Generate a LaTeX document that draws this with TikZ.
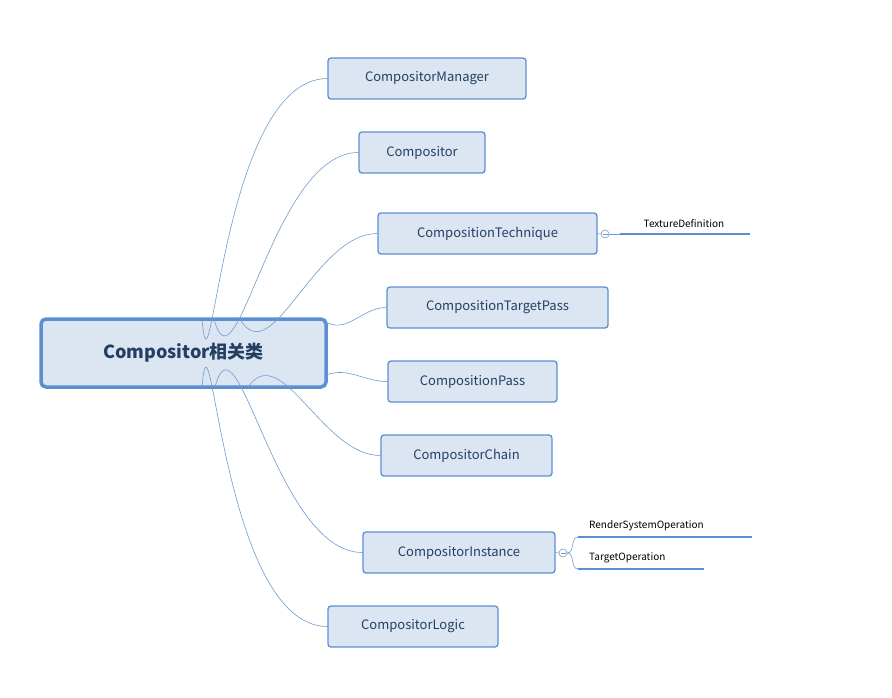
\documentclass[tikz,border=0pt]{standalone}
\usepackage{fontspec}
\setmainfont{Noto Sans CJK SC}
\begin{document}
\begin{tikzpicture}[x=1pt,y=-1pt,
  every node/.style={inner sep=0pt},
  box/.style={draw=boxline,fill=boxfill,line width=1.3pt,rounded corners=3pt,text=txt,font=\fontsize{13}{15}\selectfont},
  conn/.style={draw=conncol,line width=0.6pt},
  leaf/.style={font=\fontsize{10}{12}\selectfont,text=black},
  leafline/.style={draw=boxline,line width=1.8pt}]
\definecolor{boxline}{HTML}{5B8FD2}
\definecolor{boxfill}{HTML}{DCE6F2}
\definecolor{txt}{HTML}{243F63}
\definecolor{conncol}{HTML}{6F9AD0}
\useasboundingbox (0,0) rectangle (892,697);
\node[box,line width=3.5pt,rounded corners=5pt,minimum width=285,minimum height=68,font=\fontsize{18}{22}\selectfont\bfseries,text=txt] (c) at (183.5,353) {Compositor相关类};
\node[box,minimum width=198,minimum height=41] (n1) at (427,78.5) {CompositorManager};
\node[box,minimum width=126,minimum height=41] (n2) at (422,152.5) {Compositor};
\node[box,minimum width=219,minimum height=41] (n3) at (487.5,233.5) {CompositionTechnique};
\node[box,minimum width=221,minimum height=41] (n4) at (497.5,307.5) {CompositionTargetPass};
\node[box,minimum width=169,minimum height=41] (n5) at (472.5,381.5) {CompositionPass};
\node[box,minimum width=171,minimum height=41] (n6) at (466.5,455.5) {CompositorChain};
\node[box,minimum width=192,minimum height=41] (n7) at (459,552.5) {CompositorInstance};
\node[box,minimum width=170,minimum height=41] (n8) at (413,626.5) {CompositorLogic};
\coordinate (s1) at (202,319); \coordinate (s2) at (214,319); \coordinate (s3) at (240,319);
\coordinate (s4) at (326,322); \coordinate (s5) at (326,375); \coordinate (s6) at (248,387);
\coordinate (s7) at (215,387); \coordinate (s8) at (202,387);
\draw[conn] (s1) to[out=-85,in=180] (n1.west);
\draw[conn] (s2) to[out=-75,in=180] (n2.west);
\draw[conn] (s3) to[out=-60,in=180] (n3.west);
\draw[conn] (s4) to[out=-30,in=180] (n4.west);
\draw[conn] (s5) to[out=20,in=180] (n5.west);
\draw[conn] (s6) to[out=55,in=180] (n6.west);
\draw[conn] (s7) to[out=75,in=180] (n7.west);
\draw[conn] (s8) to[out=85,in=180] (n8.west);
% sub branches
\node[circle,draw=conncol,line width=0.6pt,minimum size=8,inner sep=0pt] (k3) at (605,234) {};
\draw[conn] (n3.east) -- (k3.west);
\draw[conn] (k3.center) ++(-2.5,0) -- ++(5,0);
\coordinate (t1a) at (620,234); \coordinate (t1b) at (750,234);
\draw[conn] (k3.east) -- (t1a);
\draw[leafline] (t1a) -- (t1b);
\node[leaf,anchor=south] (l1) at (684,228) {TextureDefinition};
\node[circle,draw=conncol,line width=0.6pt,minimum size=8,inner sep=0pt] (k7) at (563,553) {};
\draw[conn] (n7.east) -- (k7.west);
\draw[conn] (k7.center) ++(-2.5,0) -- ++(5,0);
\coordinate (t2a) at (578,537); \coordinate (t2b) at (752,537);
\coordinate (t3a) at (578,569); \coordinate (t3b) at (704,569);
\draw[conn] (k7.east) to[out=0,in=180] (t2a);
\draw[conn] (k7.east) to[out=0,in=180] (t3a);
\draw[leafline] (t2a) -- (t2b);
\draw[leafline] (t3a) -- (t3b);
\node[leaf,anchor=south west] (l2) at (589,531) {RenderSystemOperation};
\node[leaf,anchor=south west] (l3) at (589,563) {TargetOperation};
\end{tikzpicture}
\end{document}
